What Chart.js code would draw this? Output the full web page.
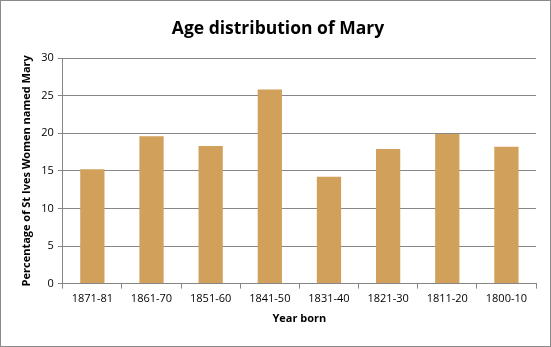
<!DOCTYPE html>
<html lang="en">
<head>
    <meta charset="UTF-8">
    <title>Age distribution of Mary</title>
    <style>
        html, body { margin: 0; padding: 0; background: #fff; }
        .chart_box {
            width: 551px; height: 347px; box-sizing: border-box;
            border: 1px solid #8a8a8a; position: relative;
        }
        .chart_box canvas { display: block; }
    </style>
</head>
<body>
    <div class="chart_box">
        <canvas class="my_chart" width="549" height="345" aria-label="Age distribution of Mary" role="img"></canvas>
    </div>

    <script src="https://cdn.jsdelivr.net/npm/chart.js"></script>
    <script>
    const yearBorn = ['1871-81', '1861-70', '1851-60', '1841-50', '1831-40', '1821-30', '1811-20', '1800-10'];
    const maryPercent = [15.2, 19.6, 18.3, 25.8, 14.2, 17.9, 19.9, 18.2];
    const yTicks = [0, 5, 10, 15, 20, 25, 30];

    const gridGrey = '#868686';
    const fontFace = "'Open Sans', 'Liberation Sans', sans-serif";

    const ctx = document.querySelector('.my_chart').getContext('2d');
    new Chart(ctx, {
        type: 'bar',
        data: {
            labels: yearBorn,
            datasets: [{
                data: maryPercent,
                backgroundColor: 'rgb(209, 160, 90)',
                borderWidth: 0,
                barPercentage: 0.41,
                categoryPercentage: 1.0
            }]
        },
        options: {
            responsive: false,
            animation: false,
            layout: { padding: { left: 19, right: 14, top: 10, bottom: 21 } },
            plugins: {
                legend: { display: false },
                tooltip: { enabled: false },
                title: {
                    display: true,
                    text: 'Age distribution of Mary',
                    color: '#000',
                    font: { family: fontFace, size: 17.5, weight: 'bold' },
                    padding: { top: 8, bottom: 18 }
                }
            },
            scales: {
                x: {
                    grid: {
                        drawOnChartArea: false,
                        drawTicks: true,
                        tickLength: 5,
                        color: gridGrey
                    },
                    border: { color: gridGrey },
                    ticks: { color: '#000', font: { family: fontFace, size: 11 }, padding: 4, maxRotation: 0 },
                    title: {
                        display: true,
                        text: 'Year born',
                        color: '#000',
                        font: { family: fontFace, size: 11, weight: 'bold' },
                        padding: { top: 2, bottom: 0 }
                    }
                },
                y: {
                    min: 0,
                    max: 30,
                    afterBuildTicks: axis => { axis.ticks = yTicks.map(v => ({ value: v })); },
                    grid: { color: gridGrey, tickLength: 5 },
                    border: { color: gridGrey },
                    ticks: { color: '#000', font: { family: fontFace, size: 11 }, padding: 4 },
                    title: {
                        display: true,
                        text: 'Percentage of St Ives Women named Mary',
                        color: '#000',
                        font: { family: fontFace, size: 11, weight: 'bold' },
                        padding: { top: 0, bottom: 4 }
                    }
                }
            }
        }
    });
    </script>
</body>
</html>
